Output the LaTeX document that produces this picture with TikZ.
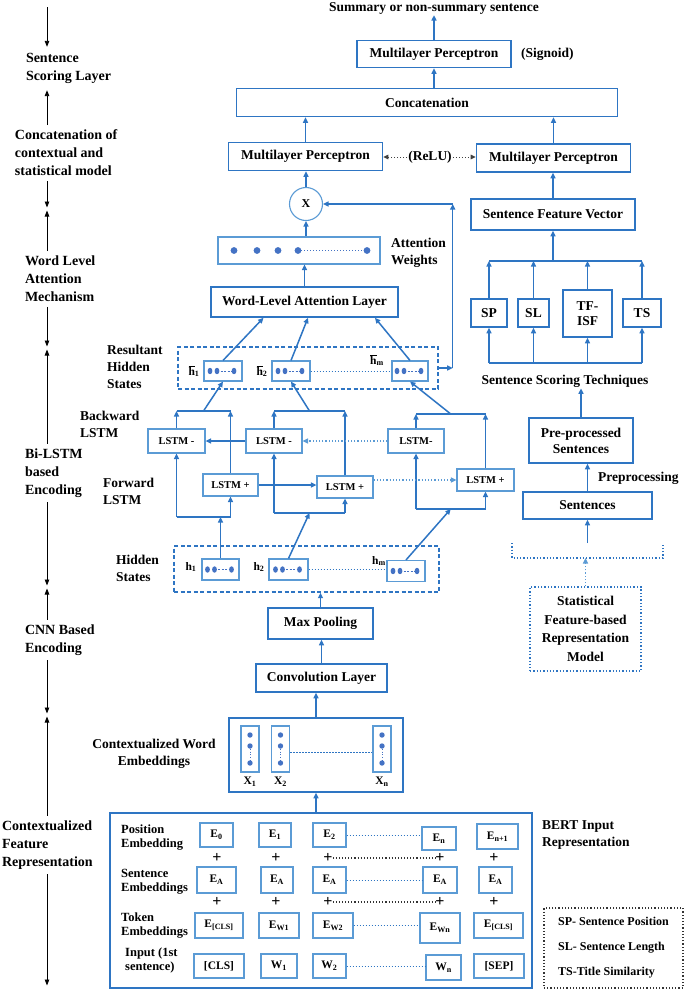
\documentclass[tikz,border=0pt]{standalone}
\usepackage{fontspec}
\setmainfont{Liberation Serif}
\usetikzlibrary{arrows.meta,calc}

\definecolor{boxblue}{RGB}{46,117,195}
\definecolor{thinblue}{RGB}{91,155,213}
\definecolor{dotblue}{RGB}{68,114,196}

% dots inside a hidden state box
\newcommand{\statedots}[1]{
  \fill[dotblue] ([xshift=-13pt]#1.center) ellipse (2.4pt and 3.2pt);
  \fill[dotblue] ([xshift=-6pt]#1.center) ellipse (2.4pt and 3.2pt);
  \draw[dotblue, line width=0.9pt, dash pattern=on 2pt off 1.5pt] ([xshift=-6pt]#1.center) -- ([xshift=11pt]#1.center);
  \fill[dotblue] ([xshift=11pt]#1.center) ellipse (2.4pt and 3.2pt);
}
% dots of a word vector
\newcommand{\worddots}[1]{
  \fill[dotblue] ([yshift=14pt]#1.center) circle (2.7pt);
  \fill[dotblue] ([yshift=3pt]#1.center) circle (2.7pt);
  \draw[dotblue, line width=0.8pt, dotted] ([yshift=3pt]#1.center) -- ([yshift=-14pt]#1.center);
  \fill[dotblue] ([yshift=-14pt]#1.center) circle (2.7pt);
}

\begin{document}
\begin{tikzpicture}[x=1pt, y=-1pt,
  box/.style={draw=boxblue, line width=1.6pt, fill=white, inner sep=1pt, align=center,
    font=\bfseries\fontsize{13.5}{16}\selectfont},
  thinbox/.style={draw=thinblue, line width=1.1pt, fill=white, inner sep=0pt},
  lstm/.style={draw=thinblue, line width=1.2pt, fill=white, inner sep=0pt,
    font=\bfseries\fontsize{10.5}{12}\selectfont},
  ebox/.style={draw=thinblue, line width=1.1pt, fill=white, inner sep=0pt,
    font=\bfseries\fontsize{11.5}{12}\selectfont},
  dbox/.style={draw=boxblue, line width=1.4pt, dash pattern=on 4pt off 2.5pt},
  dotbox/.style={draw=boxblue, line width=1.3pt, dotted, fill=white, align=center,
    font=\bfseries\fontsize{13.5}{18.5}\selectfont},
  legbox/.style={draw=black!80, line width=1.2pt, dotted, align=left, inner xsep=8pt,
    font=\bfseries\fontsize{12}{25}\selectfont},
  mulnode/.style={circle, draw=thinblue, line width=1.1pt, fill=white, minimum size=33,
    inner sep=0pt, font=\bfseries\fontsize{12}{12}\selectfont},
  lbl/.style={inner sep=1pt, outer sep=4pt, align=left, anchor=west,
    font=\bfseries\fontsize{14}{18}\selectfont},
  note/.style={inner sep=1pt, align=left, anchor=west, font=\bfseries\fontsize{13.5}{17}\selectfont},
  txt/.style={inner sep=1pt, align=center, font=\bfseries\fontsize{13.5}{17}\selectfont},
  rowlbl/.style={inner sep=1pt, align=left, anchor=west, font=\bfseries\fontsize{12.5}{14}\selectfont},
  sub/.style={inner sep=1pt, font=\bfseries\fontsize{11.5}{12}\selectfont},
  plus/.style={inner sep=0pt, font=\bfseries\fontsize{16}{16}\selectfont},
  wh/.style 2 args={minimum width=#1, minimum height=#2},
  arr/.style={draw=boxblue, line width=1.5pt, -{Triangle[length=5.5pt,width=5pt]}},
  wire/.style={draw=boxblue, line width=1.5pt},
  darr/.style={draw=black!75, line width=1pt, dotted, -{Triangle[length=5pt,width=4.5pt]}},
  bdarr/.style={draw=thinblue, line width=1.2pt, dotted, -{Triangle[length=5.5pt,width=5pt]}},
  dotwire/.style={draw=boxblue, line width=1.3pt, dotted},
  fine/.style={draw=boxblue, line width=1pt, dash pattern=on 1.5pt off 1.5pt},
  kdot/.style={draw=black!80, line width=1.1pt, dotted},
  larr/.style={draw=black, line width=0.9pt, shorten >=1.5pt, -{Triangle[length=6pt,width=4.5pt]}}]

\fill[white] (0,0) rectangle (685,997);
\useasboundingbox (0,0) rectangle (685,997);

% left column: stages
\node[lbl] (lScore) at (21,68.5) {Sentence\\Scoring Layer};
\node[lbl] (lConcat) at (10,153) {Concatenation of\\contextual and\\statistical model};
\node[lbl] (lWord) at (20,279) {Word Level\\Attention\\Mechanism};
\node[lbl] (lBi) at (20,473) {Bi-LSTM\\based\\Encoding};
\node[lbl] (lCnn) at (20,640) {CNN Based\\Encoding};
\node[lbl] (lCtx) at (-3,845) {Contextualized\\Feature\\Representation};
\coordinate (aTop) at (47,7);
\coordinate (aBot) at (47,987);
\coordinate (mA) at (47,209);
\coordinate (mB) at (47,348);
\coordinate (mC) at (47,587);
\coordinate (mD) at (47,715);
\draw[larr] (aTop) -- (aTop |- lScore.north);
\draw[larr] (lConcat.north -| aTop) -- (lScore.south -| aTop);
\draw[larr] (lConcat.south -| aTop) -- (mA);
\draw[larr] (lWord.north -| aTop) -- (mA);
\draw[larr] (lWord.south -| aTop) -- (mB);
\draw[larr] (lBi.north -| aTop) -- (mB);
\draw[larr] (lBi.south -| aTop) -- (mC);
\draw[larr] (lCnn.north -| aTop) -- (mC);
\draw[larr] (lCnn.south -| aTop) -- (mD);
\draw[larr] (lCtx.north -| aTop) -- (mD);
\draw[larr] (lCtx.south -| aTop) -- (aBot);

% sentence scoring and concatenation
\node[txt] (summ) at (434,8) {Summary or non-summary sentence};
\node[box, wh={154}{27}] (mlpTop) at (434,54) {Multilayer Perceptron};
\node[note] (sigm) at (520,54) {(Signoid)};
\node[box, wh={381}{28}] (concat) at (427,102.5) {Concatenation};
\node[box, wh={154}{28}] (mlpL) at (305.5,156.5) {Multilayer Perceptron};
\node[box, wh={154}{28}] (mlpR) at (553.5,158) {Multilayer Perceptron};
\node[txt] (relu) at (430,157) {(ReLU)};
\node[mulnode] (mul) at (306,204) {X};
\node[box, wh={164}{31}] (sfv) at (553,214.5) {Sentence Feature Vector};
\draw[arr] (mlpTop.north) -- (summ.south);
\draw[arr] (concat.north -| mlpTop.south) -- (mlpTop.south);
\draw[arr] (mlpL.north) -- (mlpL.north |- concat.south);
\draw[arr] (mlpR.north) -- (mlpR.north |- concat.south);
\draw[darr] (relu.west) -- (relu.west -| mlpL.east);
\draw[darr] (relu.east) -- (relu.east -| mlpR.west);
\draw[arr] (mul.north) -- (mul.north |- mlpL.south);
\draw[arr] (sfv.north) -- (sfv.north |- mlpR.south);

% word level attention
\node[thinbox, wh={162}{27}] (aw) at (299,250.5) {};
\foreach \dx in {-65,-42,-21,-1,68}
  \fill[dotblue] ([xshift=\dx pt]aw.center) circle (3.4pt);
\draw[dotblue, line width=1pt, dotted] ([xshift=-1pt]aw.center) -- ([xshift=68pt]aw.center);
\node[note] (awlab) at (390,252.5) {Attention\\Weights};
\node[box, wh={187}{30}] (wla) at (304.5,302) {Word-Level Attention Layer};
\draw[arr] (wla.north) -- (wla.north |- aw.south);
\draw[arr] (mul.south |- aw.north) -- (mul.south);

% resultant hidden states
\node[dbox, wh={260}{42}] (rhs) at (308,368) {};
\node[thinbox, wh={38}{20}] (hb1) at (223,371) {};
\node[thinbox, wh={38}{20}] (hb2) at (291,371) {};
\node[thinbox, wh={36}{20}] (hbm) at (410,371) {};
\statedots{hb1}
\statedots{hb2}
\statedots{hbm}
\node[sub] (lhb1) at (194,371) {$\overline{\mbox{h}}$\textsubscript{1}};
\node[sub] (lhb2) at (262,371) {$\overline{\mbox{h}}$\textsubscript{2}};
\node[sub] (lhbm) at (377,360) {$\overline{\mbox{h}}$\textsubscript{m}};
\node[note] (lrhs) at (106,367) {Resultant\\Hidden\\States};
\draw[fine] (hb2.east) -- (hbm.west);
\draw[arr] (hb1.north) -- ([xshift=-41pt]wla.south);
\draw[arr] (hb2.north) -- ([xshift=3.5pt]wla.south);
\draw[arr] (hbm.north) -- ([xshift=70.5pt]wla.south);
\coordinate (rcA) at ([xshift=14pt]rhs.east);
\coordinate (rcB) at (rcA |- mul.east);
\draw[arr] (rhs.east) -- (rcA);
\draw[arr] (rcA) -- (rcB);
\draw[arr] (rcB) -- (mul.east);

% bi-lstm
\node[lstm, wh={57}{24}] (lb1) at (176.5,441) {LSTM -};
\node[lstm, wh={56}{24}] (lb2) at (274,441) {LSTM -};
\node[lstm, wh={56}{24}] (lb3) at (416,441) {LSTM-};
\node[lstm, wh={55}{22}] (lf1) at (230.5,485) {LSTM +};
\node[lstm, wh={56}{22}] (lf2) at (345,487) {LSTM +};
\node[lstm, wh={57}{22}] (lf3) at (485.5,480) {LSTM +};
\node[note] (lbw) at (79,424.5) {Backward\\LSTM};
\node[note] (lfw) at (102,491.5) {Forward\\LSTM};
\foreach \i/\yb/\yt in {1/517/411,2/513/411,3/509/414} {
  \coordinate (yb) at (0,\yb);
  \coordinate (yt) at (0,\yt);
  \draw[wire] (lb\i.south |- yb) -- (lf\i.south |- yb);
  \draw[arr] (lb\i.south |- yb) -- (lb\i.south);
  \draw[arr] (lf\i.south |- yb) -- (lf\i.south);
  \draw[arr] (lb\i.north) -- (lb\i.north |- yt);
  \draw[arr] (lf\i.north) -- (lf\i.north |- yt);
  \draw[wire] (lb\i.north |- yt) -- (lf\i.north |- yt);
  \coordinate (bot\i) at ($(lb\i.south |- yb)!0.5!(lf\i.south |- yb)$);
  \coordinate (top\i) at ($(lb\i.north |- yt)!0.5!(lf\i.north |- yt)$);
}
\draw[arr] (top1) -- (hb1.south);
\draw[arr] (top2) -- (hb2.south);
\draw[arr] (top3) -- (hbm.south);
\draw[arr] (lb2.west) -- (lb1.east);
\draw[bdarr] (lb3.west) -- (lb2.east);
\draw[arr] (lf1.east) -- (lf1.east -| lf2.west);
\draw[bdarr] (lf3.west -| lf2.east) -- (lf3.west);

% hidden states
\node[dbox, wh={265}{46}] (hs) at (306.5,569) {};
\node[thinbox, wh={37}{21}] (hh1) at (220.5,569.5) {};
\node[thinbox, wh={39}{21}] (hh2) at (288.5,569.5) {};
\node[thinbox, wh={38}{21}] (hhm) at (406,571) {};
\statedots{hh1}
\statedots{hh2}
\statedots{hhm}
\node[sub] (lhh1) at (191,567) {h\textsubscript{1}};
\node[sub] (lhh2) at (259,567) {h\textsubscript{2}};
\node[sub] (lhhm) at (379,561) {h\textsubscript{m}};
\node[note] (lhs) at (115,568.5) {Hidden\\States};
\draw[fine] (hh2.east) -- (hh2.east -| hhm.west);
\draw[arr] (hh1.north) -- (hh1.north |- bot1);
\draw[arr] (hh2.north) -- (bot2);
\draw[arr] (hhm.north) -- (bot3);

% cnn
\node[box, wh={105}{31}] (mp) at (320.5,623.5) {Max Pooling};
\node[box, wh={131}{28}] (conv) at (321.5,678) {Convolution Layer};
\node[box, wh={174}{74}] (cwe) at (316,755) {};
\node[thinbox, wh={18}{46}] (x1) at (250,749) {};
\node[thinbox, wh={18}{46}] (x2) at (280.5,749) {};
\node[thinbox, wh={18}{46}] (xn) at (382,749) {};
\worddots{x1}
\worddots{x2}
\worddots{xn}
\draw[fine] ([yshift=-3pt]x2.east) -- ([yshift=-3pt]xn.west);
\node[sub] (lx1) at (250,782) {X\textsubscript{1}};
\node[sub] (lx2) at (280.5,782) {X\textsubscript{2}};
\node[sub] (lxn) at (382,782) {X\textsubscript{n}};
\node[txt] (lcwe) at (154,754) {Contextualized Word\\Embeddings};
\draw[arr] (mp.north) -- (mp.north |- hs.south);
\draw[arr] (conv.north) -- (conv.north |- mp.south);
\draw[arr] (cwe.north) -- (cwe.north |- conv.south);

% bert input representation
\node[box, wh={422}{175}] (bert) at (321,900.5) {};
\draw[arr] (cwe.south |- bert.north) -- (cwe.south);
\node[rowlbl] (lpos) at (120,838) {Position\\Embedding};
\node[rowlbl] (lseg) at (120,882) {Sentence\\Embeddings};
\node[rowlbl] (ltok) at (120,925.5) {Token\\Embeddings};
\node[rowlbl] (linp) at (124,960) {Input (1st\\sentence)};
\foreach \n/\cx/\cy/\w/\h/\t in {1/216.5/835/33/24/E\textsubscript{0}, 2/275/835/32/24/E\textsubscript{1},
    3/329.5/835/33/24/E\textsubscript{2}, 4/439/838.5/34/23/E\textsubscript{n}, 5/497.5/836.5/41/25/E\textsubscript{n+1}}
  \node[ebox, wh={\w}{\h}] (pos\n) at (\cx,\cy) {\t};
\foreach \n/\cx/\cy/\w/\h/\t in {1/216.5/880/39/26/E\textsubscript{A}, 2/277/880/32/26/E\textsubscript{A},
    3/329.5/880/33/26/E\textsubscript{A}, 4/440/880/34/26/E\textsubscript{A}, 5/495.5/880/33/26/E\textsubscript{A}}
  \node[ebox, wh={\w}{\h}] (seg\n) at (\cx,\cy) {\t};
\foreach \n/\cx/\cy/\w/\h/\t in {1/219/925.5/48/25/E\textsubscript{[CLS]}, 2/279/925.5/40/25/E\textsubscript{W1},
    3/333/925.5/40/25/E\textsubscript{W2}, 4/440/928/40/30/E\textsubscript{Wn}, 5/498.5/925.5/49/25/E\textsubscript{[CLS]}}
  \node[ebox, wh={\w}{\h}] (tok\n) at (\cx,\cy) {\t};
\foreach \n/\cx/\cy/\w/\h/\t in {1/219/966/50/24/[CLS], 2/279/966/36/24/W\textsubscript{1},
    3/329.5/966/33/24/W\textsubscript{2}, 4/443.5/967.5/35/25/W\textsubscript{n}, 5/499/966/50/24/[SEP]}
  \node[ebox, wh={\w}{\h}] (inp\n) at (\cx,\cy) {\t};
\foreach \n/\px in {1/217,2/276,3/328,4/440,5/494} {
  \node[plus] (pa\n) at (\px,858) {+};
  \node[plus] (pb\n) at (\px,902) {+};
}
\foreach \r in {pos,seg,tok,inp}
  \draw[fine] (\r3.east) -- (\r3.east -| \r4.west);
\draw[kdot] (pa3.east) -- (pa4.west);
\draw[kdot] (pb3.east) -- (pb4.west);
\node[note] (lbert) at (541,835) {BERT Input\\Representation};

% legend
\node[legbox, wh={139}{80}] (legend) at (613.5,948) {SP- Sentence Position\\SL- Sentence Length\\TS-Title Similarity};

% statistical features
\node[box, wh={36}{28}] (sp) at (489,313) {SP};
\node[box, wh={31}{28}] (sl) at (533.5,313) {SL};
\node[box, wh={49}{47}, font=\bfseries\fontsize{13.5}{15}\selectfont] (tfisf) at (587.5,313.5) {TF-\\ISF};
\node[box, wh={38}{28}] (ts) at (642,313) {TS};
\coordinate (sqTop) at (0,261);
\coordinate (sqBot) at (0,363);
\draw[wire] (sp.north |- sqTop) -- (ts.north |- sqTop);
\draw[wire] (sp.south |- sqBot) -- (ts.south |- sqBot);
\foreach \b in {sp,sl,tfisf,ts} {
  \draw[arr] (\b.north) -- (\b.north |- sqTop);
  \draw[arr] (\b.south |- sqBot) -- (\b.south);
}
\draw[arr] (sfv.south |- sqTop) -- (sfv.south);
\node[txt] (sst) at (565,381) {Sentence Scoring Techniques};
\node[box, wh={104}{45}] (pp) at (581,440.5) {Pre-processed\\Sentences};
\node[box, wh={129}{27}] (sent) at (587.5,505.5) {Sentences};
\node[note] (lpre) at (597,478) {Preprocessing};
\draw[arr] (pp.north) -- (pp.north |- sst.south);
\draw[arr] (sent.north) -- (sent.north |- pp.south);
\coordinate (brL) at (512,543);
\coordinate (brR) at (663,543);
\coordinate (brB) at (585,558);
\draw[dotwire] (brL) |- (brB) -| (brR);
\draw[arr] (sent.south |- brL) -- (sent.south);
\node[dotbox, wh={111}{84}] (sfbrm) at (585.5,629) {Statistical\\Feature-based\\Representation\\Model};
\draw[bdarr] (sfbrm.north) -- (sfbrm.north |- brB);
\end{tikzpicture}
\end{document}
